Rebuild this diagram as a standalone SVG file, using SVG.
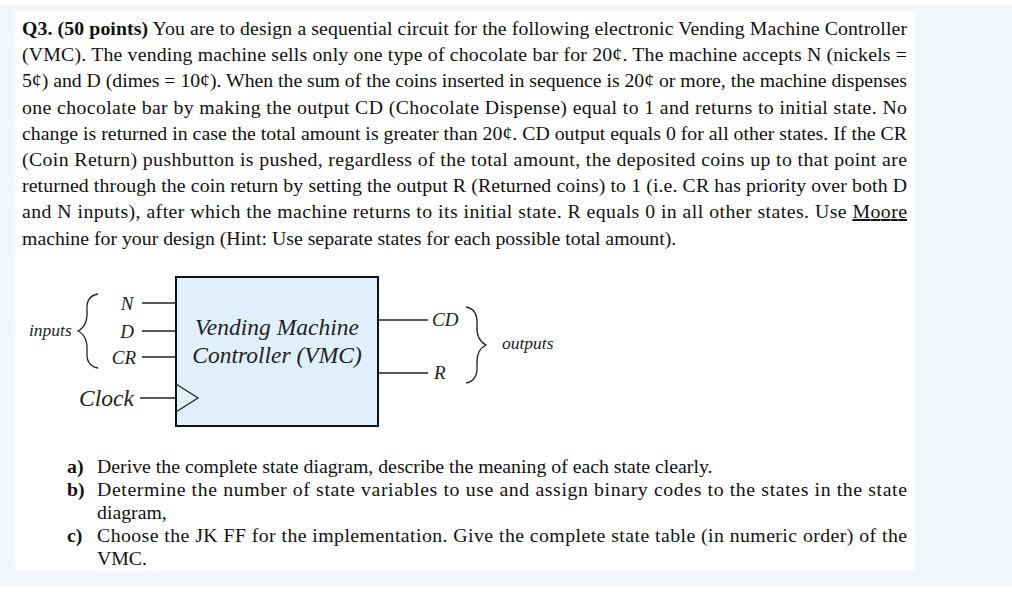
<svg xmlns="http://www.w3.org/2000/svg" width="1012" height="595" viewBox="0 0 1012 595">
<style>
.t{font-family:"Liberation Serif",serif;font-size:19.8px;fill:#111}
.i{font-family:"Liberation Serif",serif;font-style:italic;fill:#222}
.ln{stroke:#222;stroke-width:1.3;fill:none}
</style>
<rect x="0" y="0" width="1012" height="595" fill="#fff"/>
<rect x="0" y="5" width="1012" height="581" fill="#f2f6fa"/>
<rect x="15" y="11" width="900" height="560" fill="#fff"/>
<g id="question" class="t">
<text x="22" y="35" textLength="885" lengthAdjust="spacing"><tspan font-weight="bold">Q3. (50 points)</tspan> You are to design a sequential circuit for the following electronic Vending Machine Controller</text>
<text x="22" y="61" textLength="885" lengthAdjust="spacing">(VMC). The vending machine sells only one type of chocolate bar for 20¢. The machine accepts N (nickels =</text>
<text x="22" y="87" textLength="885" lengthAdjust="spacing">5¢) and D (dimes = 10¢). When the sum of the coins inserted in sequence is 20¢ or more, the machine dispenses</text>
<text x="22" y="114" textLength="885" lengthAdjust="spacing">one chocolate bar by making the output CD (Chocolate Dispense) equal to 1 and returns to initial state. No</text>
<text x="22" y="140" textLength="885" lengthAdjust="spacing">change is returned in case the total amount is greater than 20¢. CD output equals 0 for all other states. If the CR</text>
<text x="22" y="166" textLength="885" lengthAdjust="spacing">(Coin Return) pushbutton is pushed, regardless of the total amount, the deposited coins up to that point are</text>
<text x="22" y="192" textLength="885" lengthAdjust="spacing">returned through the coin return by setting the output R (Returned coins) to 1 (i.e. CR has priority over both D</text>
<text x="22" y="218" textLength="885" lengthAdjust="spacing">and N inputs), after which the machine returns to its initial state. R equals 0 in all other states. Use <tspan text-decoration="underline">Moore</tspan></text>
<text x="22" y="245">machine for your design (Hint: Use separate states for each possible total amount).</text>
</g>
<g id="vmc">
<rect x="176" y="277" width="202" height="149" fill="#dff0fc" stroke="#111" stroke-width="2"/>
<polyline points="176,384 198,398 176,412" class="ln"/>
<text class="i" font-size="23.5" x="277" y="335" text-anchor="middle">Vending Machine</text>
<text class="i" font-size="23.5" x="277" y="363" text-anchor="middle">Controller (VMC)</text>
</g>
<g id="connectors" class="ln">
<line x1="142" y1="303" x2="176" y2="303"/>
<line x1="142" y1="331" x2="176" y2="331"/>
<line x1="142" y1="357" x2="176" y2="357"/>
<line x1="140" y1="398" x2="176" y2="398"/>
<line x1="378" y1="320" x2="428" y2="320"/>
<line x1="378" y1="373" x2="428" y2="373"/>
<path d="M98,294 Q86,296 87,310 Q88,326 78,331 Q88,336 87,352 Q86,366 98,368"/>
<path d="M466,307 Q478,309 477,325 Q476,340 486,345 Q476,350 477,365 Q478,381 466,383"/>
</g>
<g id="labels">
<text class="i" font-size="19" x="127" y="310" text-anchor="middle">N</text>
<text class="i" font-size="19" x="127" y="338" text-anchor="middle">D</text>
<text class="i" font-size="19" x="124" y="364" text-anchor="middle">CR</text>
<text class="i" font-size="23.5" x="79" y="406">Clock</text>
<text class="i" font-size="17.5" x="29" y="336">inputs</text>
<text class="i" font-size="19" x="432" y="326">CD</text>
<text class="i" font-size="19" x="434" y="379">R</text>
<text class="i" font-size="17.5" x="502" y="349">outputs</text>
</g>
<g id="parts" class="t">
<text x="67" y="473" font-weight="bold">a)</text>
<text x="97" y="473">Derive the complete state diagram, describe the meaning of each state clearly.</text>
<text x="67" y="496" font-weight="bold">b)</text>
<text x="97" y="496" textLength="810" lengthAdjust="spacing">Determine the number of state variables to use and assign binary codes to the states in the state</text>
<text x="97" y="519">diagram,</text>
<text x="67" y="542" font-weight="bold">c)</text>
<text x="97" y="542" textLength="810" lengthAdjust="spacing">Choose the JK FF for the implementation. Give the complete state table (in numeric order) of the</text>
<text x="97" y="565">VMC.</text>
</g>
</svg>
